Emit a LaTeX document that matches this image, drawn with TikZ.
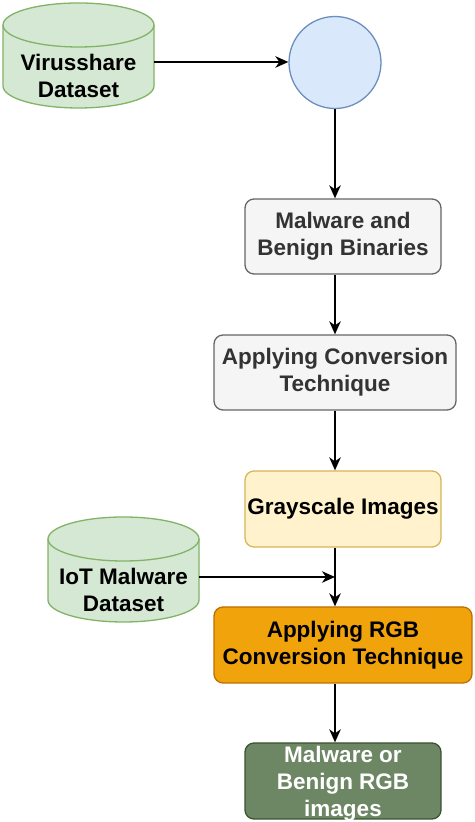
\documentclass[tikz,border=0pt]{standalone}
\usepackage{fontspec}
\setmainfont{Liberation Sans}
\usetikzlibrary{arrows.meta}
\definecolor{cylfill}{HTML}{D5E8D4}
\definecolor{cylline}{HTML}{82B366}
\definecolor{circfill}{HTML}{DAE8FC}
\definecolor{circline}{HTML}{6C8EBF}
\definecolor{grayfill}{HTML}{F5F5F5}
\definecolor{grayline}{HTML}{666666}
\definecolor{graytext}{HTML}{333333}
\definecolor{yelfill}{HTML}{FFF2CC}
\definecolor{yelline}{HTML}{D6B656}
\definecolor{orfill}{HTML}{F0A30A}
\definecolor{orline}{HTML}{BD7000}
\definecolor{grfill}{HTML}{6D8764}
\definecolor{grline}{HTML}{3A5431}
\tikzset{
  x=1pt, y=1pt,
  lbl/.style={font=\fontsize{22.5}{27}\selectfont\bfseries, align=center, inner sep=0pt},
  boxstyle/.style={lbl, rectangle, rounded corners=9pt, line width=1.3pt},
  arr/.style={-{Stealth[length=13pt,width=11.5pt,inset=4pt]}, line width=1.6pt, black},
  cyl/.style={fill=cylfill, draw=cylline, line width=1.3pt}
}
\begin{document}
\begin{tikzpicture}
\useasboundingbox (0,0) rectangle (474,822);
\fill[white] (0,0) rectangle (474,822);

% Virusshare cylinder
\path[cyl] (3,797) -- (3,736) arc[start angle=180,end angle=360,x radius=75.5,y radius=22]
  -- (154,797) arc[start angle=0,end angle=180,x radius=75.5,y radius=22] -- cycle;
\draw[cylline, line width=1.3pt] (3,797) arc[start angle=180,end angle=360,x radius=75.5,y radius=22];
\node[lbl, text=black] (vs) at (78.5,746.5) {Virusshare\\Dataset};
\coordinate (vsE) at (154,760);

% Circle
\node[circle, minimum size=92pt, inner sep=0pt, fill=circfill, draw=circline, line width=1.3pt] (circ) at (335,759.5) {};

% Boxes
\node[boxstyle, minimum width=196pt, minimum height=75pt, fill=grayfill, draw=grayline, text=graytext] (b1) at (343,585.5) {Malware and\\Benign Binaries};
\node[boxstyle, minimum width=242pt, minimum height=75pt, fill=grayfill, draw=grayline, text=graytext] (b2) at (335,449.5) {Applying Conversion\\Technique};
\node[boxstyle, minimum width=196pt, minimum height=76pt, fill=yelfill, draw=yelline, text=black] (b3) at (343,313) {Grayscale Images};
\node[boxstyle, minimum width=258pt, minimum height=76pt, fill=orfill, draw=orline, text=black] (b4) at (343,177) {Applying RGB\\Conversion Technique};
\node[boxstyle, minimum width=196pt, minimum height=76pt, fill=grfill, draw=grline] (b5) at (343,41) {};
\node[lbl, text=white] (b5t) at (343,38) {Malware or\\Benign RGB\\images};

% IoT cylinder
\path[cyl] (48,283) -- (48,222) arc[start angle=180,end angle=360,x radius=75.5,y radius=22]
  -- (199,283) arc[start angle=0,end angle=180,x radius=75.5,y radius=22] -- cycle;
\draw[cylline, line width=1.3pt] (48,283) arc[start angle=180,end angle=360,x radius=75.5,y radius=22];
\node[lbl, text=black] (iot) at (123.5,232) {IoT Malware\\Dataset};
\coordinate (iotE) at (199,245);
\coordinate (j) at (335,245);

% Connectors
\draw[arr] (vsE) -- (vsE -| circ.west);
\draw[arr] (circ.south) -- (circ.south |- b1.north);
\draw[arr] (circ.south |- b1.south) -- (b2.north);
\draw[arr] (b2.south) -- (b2.south |- b3.north);
\draw[arr] (b2.south |- b3.south) -- (b2.south |- b4.north);
\draw[arr] (b2.south |- b4.south) -- (b2.south |- b5.north);
\draw[arr] (iotE) -- (j);
\end{tikzpicture}
\end{document}
